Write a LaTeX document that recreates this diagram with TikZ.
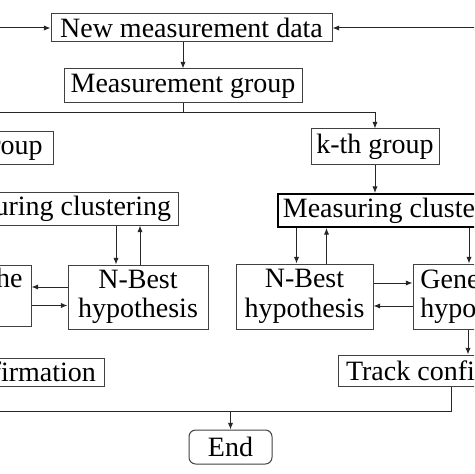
\documentclass[tikz,border=0pt]{standalone}
\usepackage{fontspec}
\setmainfont{Liberation Serif}
\usetikzlibrary{arrows.meta,calc}

\tikzset{
  box/.style={draw=black!75, line width=0.75pt, inner sep=0pt, align=center, font=\fontsize{21}{22}\selectfont},
  arr/.style={draw=black!85, line width=0.75pt, -{Latex[length=5pt,width=4pt]}},
  ln/.style={draw=black!85, line width=0.75pt},
}

\begin{document}
\begin{tikzpicture}[x=0.75pt,y=0.75pt,yscale=-1,xscale=1]
\useasboundingbox (0,0) rectangle (474,474);
\clip (0,0) rectangle (474,474);

%Shape: Rectangle [top]
\node[box, minimum width=210.75pt, minimum height=21pt] (newdata) at (191.5,28) {New measurement data};
\node[box, minimum width=178.5pt, minimum height=25.5pt] (measgroup) at (183,86) {Measurement group};
%Shape: Rectangle [groups]
\node[box, minimum width=103.5pt, minimum height=24pt] (group1) at (-16,148) {1-th group};
\node[box, minimum width=96pt, minimum height=26.25pt] (kgroup) at (375,146.5) {k-th group};
%Shape: Rectangle [left column]
\node[box, minimum width=189pt, minimum height=24.75pt] (mcL) at (52.5,208.5) {Measuring clustering};
\node[box, minimum width=105pt, minimum height=48pt] (nbL) at (138,297) {N-Best\\hypothesis};
\node[box, align=left, minimum width=119.25pt, minimum height=45.75pt] (genL) at (-48.5,295.5) {Generate the\\hypothesis};
\node[box, minimum width=174pt, minimum height=21pt] (tcL) at (-12,372) {Track confirmation};
%Shape: Rectangle [right column]
\node[box, line width=1.5pt, draw=black, minimum width=185.25pt, minimum height=24.75pt] (mcR) at (401.5,210.5) {Measuring clustering};
\node[box, minimum width=102.75pt, minimum height=48.75pt] (nbR) at (304.5,296.5) {N-Best\\hypothesis};
\node[box, align=left, minimum width=117.75pt, minimum height=48.75pt] (genR) at (491.5,296.5) {Generate the\\hypothesis};
\node[box, minimum width=174pt, minimum height=23.25pt] (tcR) at (454,370.5) {Track confirmation};
%Shape: Rounded Rectangle
\node[box, rounded corners=5pt, minimum width=62.25pt, minimum height=25.5pt] (endN) at (230.5,447) {End};

%Straight Lines [input]
\coordinate (inL) at (-20,28);
\coordinate (inR) at (494,28);
\draw[arr] (inL) -- (newdata.west);
\draw[arr] (inR) -- (newdata.east);
\draw[arr] (newdata.south -| measgroup.north) -- (measgroup.north);

%Straight Lines [split into groups]
\coordinate (split) at ($(measgroup.south)+(0,9)$);
\draw[ln] (measgroup.south) -- (split);
\draw[arr] (split) -| (kgroup.north);
\draw[arr] (split) -| (group1.north);
\draw[arr] (kgroup.south) -- (kgroup.south |- mcR.north);

%Straight Lines [left column]
\coordinate (nbLa) at ($(nbL.north)+(-22,0)$);
\coordinate (nbLb) at ($(nbL.north)+(2,0)$);
\draw[arr] (nbLa |- mcL.south) -- (nbLa);
\draw[arr] (nbLb) -- (nbLb |- mcL.south);
\coordinate (lA) at ($(nbL.west)+(0,-10)$);
\coordinate (lB) at ($(genL.east)+(0,10)$);
\draw[arr] (lA) -- (lA -| genL.east);
\draw[arr] (lB) -- (lB -| nbL.west);

%Straight Lines [right column]
\coordinate (nbRa) at ($(nbR.north)+(-8,0)$);
\coordinate (nbRb) at ($(nbR.north)+(22,0)$);
\draw[arr] (nbRa |- mcR.south) -- (nbRa);
\draw[arr] (nbRb) -- (nbRb |- mcR.south);
\coordinate (gRa) at ($(genR.north)+(-22.5,0)$);
\draw[arr] (gRa |- mcR.south) -- (gRa);
\coordinate (rA) at ($(nbR.east)+(0,-13.5)$);
\coordinate (rB) at ($(genR.west)+(0,9.5)$);
\draw[arr] (rA) -- (rA -| genR.west);
\draw[arr] (rB) -- (rB -| nbR.east);
\coordinate (gRb) at ($(genR.south)+(-23.5,0)$);
\draw[arr] (gRb) -- (gRb |- tcR.north);

%Straight Lines [merge to end]
\coordinate (mR) at ($(tcR.south)+(-3,25)$);
\draw[ln] (mR |- tcR.south) -- (mR) -- (mR -| tcL.south) -- (tcL.south);
\draw[arr] (mR -| endN.north) -- (endN.north);

\end{tikzpicture}
\end{document}
